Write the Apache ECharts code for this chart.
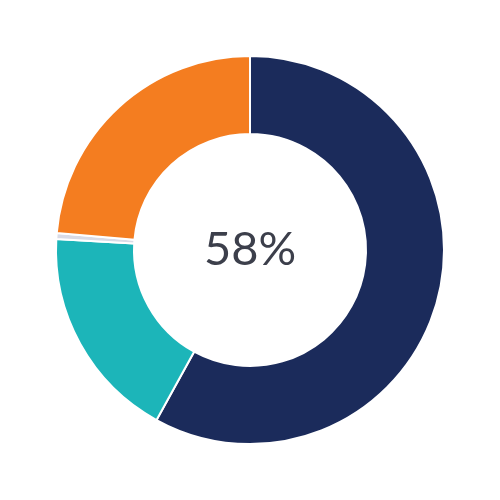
<!DOCTYPE html>
<html>
<head>
<meta charset="utf-8">
<script src="https://cdn.jsdelivr.net/npm/echarts@6/dist/echarts.min.js"></script>
<style>html,body{margin:0;padding:0;background:#fff}#c{width:500px;height:500px}</style>
</head>
<body>
<div id="c"></div>
<script>
var categories = ['A', 'B', 'C', 'D'];
var values = [58, 17.9, 0.5, 23.6];
var colors = ['#1b2b5b', '#1cb5b9', '#d9dbe6', '#f47d20'];
var centerText = '58%';

var chart = echarts.init(document.getElementById('c'));
chart.setOption({
  animation: false,
  series: [{
    type: 'pie',
    center: ['50%', '50%'],
    radius: [116, 194],
    startAngle: 90,
    clockwise: true,
    label: { show: false },
    labelLine: { show: false },
    itemStyle: { borderColor: '#fff', borderWidth: 2 },
    data: categories.map(function (c, i) {
      return { name: c, value: values[i], itemStyle: { color: colors[i] } };
    })
  }],
  graphic: [{
    type: 'text',
    left: 'center',
    top: 'middle',
    style: {
      text: centerText,
      font: '47px Lato',
      fill: '#3c3f4b',
      textAlign: 'center',
      textVerticalAlign: 'middle'
    }
  }]
});
</script>
</body>
</html>
